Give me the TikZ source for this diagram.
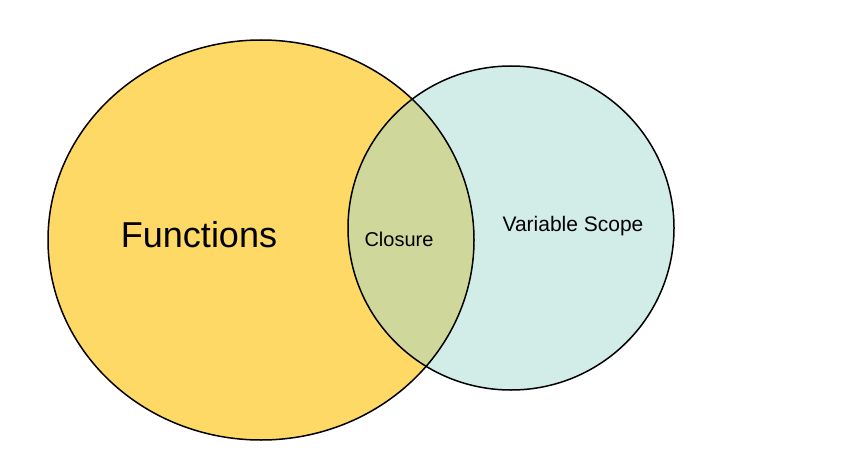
\documentclass[tikz,border=0pt]{standalone}
\usepackage{fontspec}
\setmainfont{Liberation Sans}
\definecolor{yel}{RGB}{255,217,102}
\definecolor{teal2}{RGB}{210,236,232}
\definecolor{ovl}{RGB}{207,216,154}
\begin{document}
\begin{tikzpicture}[x=1pt,y=-1pt,lab/.style={inner sep=0pt}]
\useasboundingbox (0,0) rectangle (864,468);
\fill[white] (0,0) rectangle (864,468);
\fill[yel] (261,240) ellipse [x radius=213,y radius=200];
\fill[teal2] (511,228) ellipse [x radius=163,y radius=162];
\begin{scope}
\clip (261,240) ellipse [x radius=213,y radius=200];
\fill[ovl] (511,228) ellipse [x radius=163,y radius=162];
\end{scope}
\draw[line width=1.5pt] (261,240) ellipse [x radius=213,y radius=200];
\draw[line width=1.5pt] (511,228) ellipse [x radius=163,y radius=162];
\node[lab,font=\fontsize{36}{40}\selectfont] (f) at (199,235) {Functions};
\node[lab,font=\fontsize{20}{24}\selectfont] (c) at (399,239) {Closure};
\node[lab,font=\fontsize{21}{24}\selectfont] (v) at (573,226) {Variable Scope};
\end{tikzpicture}
\end{document}
